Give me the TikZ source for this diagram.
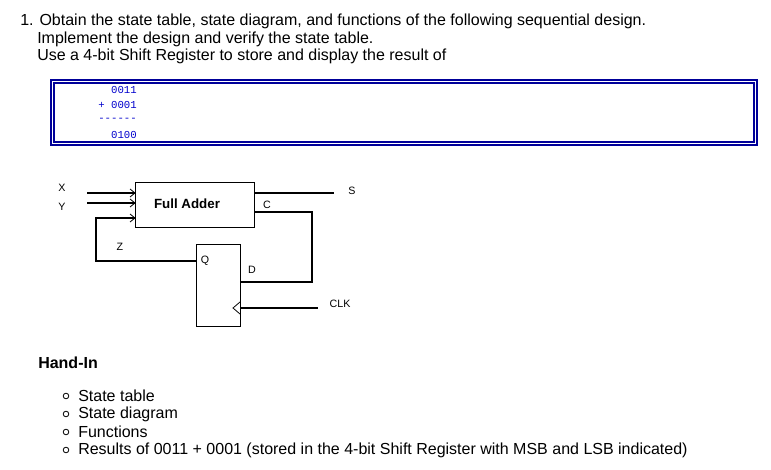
\documentclass[tikz,border=0pt]{standalone}
\usepackage{fontspec}
\setmainfont{Liberation Sans}
\newfontfamily\monof{Liberation Mono}
\begin{document}
\begin{tikzpicture}[x=0.75pt,y=-0.75pt,
  txt/.style={anchor=west,inner sep=0pt,font=\fontsize{12}{12}\selectfont},
  lab/.style={inner sep=0pt,font=\fontsize{8}{8}\selectfont},
  code/.style={anchor=east,inner sep=0pt,text=blue!80!black,font=\monof\fontsize{8}{8}\selectfont},
  wire/.style={line width=0.8pt},
  blk/.style={draw,line width=0.8pt,inner sep=0pt}]
\useasboundingbox (0,0) rectangle (771,470);
\node[txt] (l1) at (20,21) {1. Obtain the state table, state diagram, and functions of the following sequential design.};
\node[txt] (l2) at (37,39) {Implement the design and verify the state table.};
\node[txt] (l3) at (37,56) {Use a 4-bit Shift Register to store and display the result of};
\draw[blue!60!black,line width=0.8pt] (51,80) rectangle (757,145);
\draw[blue!60!black,line width=0.8pt] (54,83) rectangle (754,142);
\node[code] (c1) at (137,90) {0011};
\node[code] (c2) at (137,105) {+ 0001};
\node[code] (c3) at (137,120) {------};
\node[code] (c4) at (137,135) {0100};
% full adder
\node[blk,minimum width=89.25pt,minimum height=33.75pt,anchor=north west] (fa) at (135,182) {};
\node[inner sep=0pt,font=\bfseries\fontsize{10}{10}\selectfont] (fal) at (187,204) {Full Adder};
\node[blk,minimum width=33pt,minimum height=61.5pt,anchor=north west] (ff) at (196,244) {};
\node[lab] (X) at (62,188) {X};
\node[lab] (Y) at (62,207) {Y};
\node[lab] (S) at (352,191) {S};
\node[lab] (C) at (267,205) {C};
\node[lab] (D) at (252,270) {D};
\node[lab] (Q) at (205,261) {Q};
\node[lab] (Z) at (120,247) {Z};
\node[lab] (CLK) at (340,304) {CLK};
\coordinate (xi) at (87,193);
\coordinate (yi) at (87,203);
\draw[wire] (xi) -- (fa.west |- xi);
\draw[wire] (yi) -- (fa.west |- yi);
\draw[wire] (fa.west |- 0,218) -- (96,218) -- (96,261) -- (ff.west |- 0,261);
\foreach \yy in {193,203,218}{\draw[line width=0.6pt] (130,\yy-4) -- (135,\yy) -- (130,\yy+4);}
\draw[wire] (fa.east |- 0,193) -- (334,193);
\draw[wire] (fa.east |- 0,212) -- (312,212) -- (312,282) -- (ff.east |- 0,282);
\draw[wire] (ff.east |- 0,308) -- (318,308);
\draw[line width=0.6pt] (240,302) -- (233,308) -- (240,314);
\node[txt,font=\bfseries\fontsize{12}{12}\selectfont] (hi) at (38,363) {Hand-In};
\foreach \yy/\t [count=\i] in {396/State table,414/State diagram,432/Functions,450/Results of 0011 + 0001 (stored in the 4-bit Shift Register with MSB and LSB indicated)}{
  \draw[line width=0.6pt] (66,\yy) circle (2.8);
  \node[txt] (b\i) at (78,\yy) {\t};}
\end{tikzpicture}
\end{document}
